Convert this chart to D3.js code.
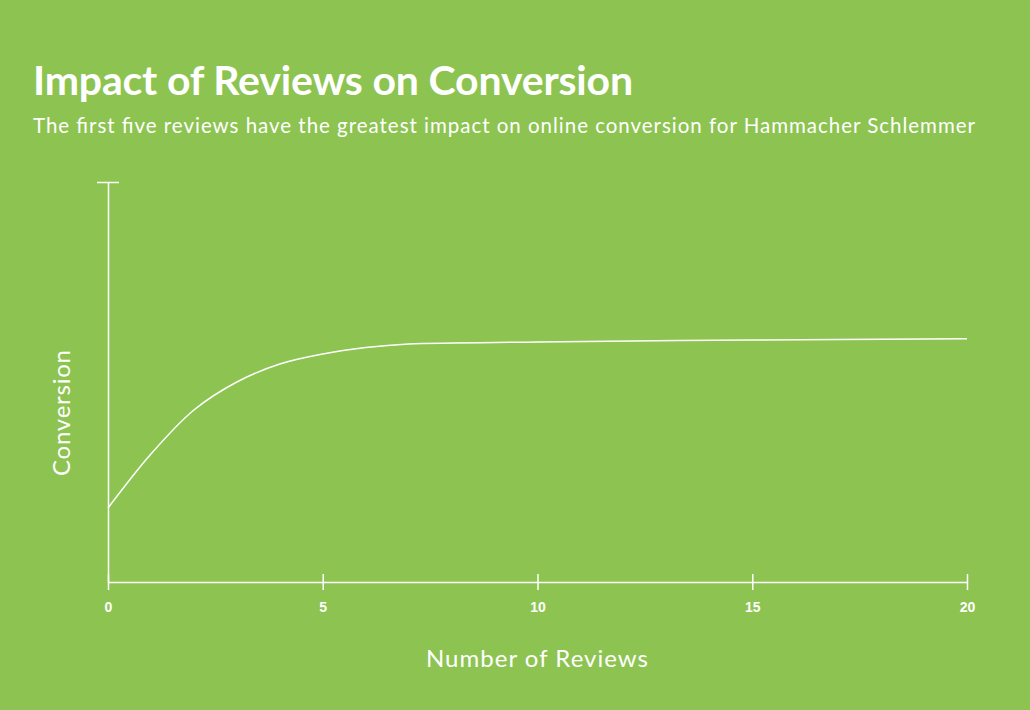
<!DOCTYPE html><html><head><meta charset="utf-8"><script src="https://d3js.org/d3.v7.min.js"></script>
<style>body{margin:0;background:#8dc451}</style></head><body><script>
const reviews=[0,1,2,3,4,5,6,7,10,15,20];
const conversion=[18.5,32,43,50,54.5,57,58.6,59.5,60,60.5,60.8];
const xTicks=[0,5,10,15,20];
const title="Impact of Reviews on Conversion";
const subtitle="The first five reviews have the greatest impact on online conversion for Hammacher Schlemmer";
const W=1030,H=710;
const svg=d3.select("body").append("svg").attr("width",W).attr("height",H).style("font-family","Lato, 'Open Sans', sans-serif");
svg.append("rect").attr("width",W).attr("height",H).attr("fill","#8dc451");
const x=d3.scaleLinear().domain([0,20]).range([108,967]);
const y=d3.scaleLinear().domain([0,100]).range([582,182]);
svg.append("text").attr("x",33).attr("y",95).attr("fill","#fff").attr("font-size",41).attr("font-weight",700).attr("textLength",600).text(title);
svg.append("text").attr("x",33).attr("y",133).attr("fill","#fff").attr("font-size",20.5).attr("font-weight",400).attr("textLength",942).text(subtitle);
const ax=svg.append("g").attr("transform","translate(0,582)").call(d3.axisBottom(x).tickValues(xTicks).tickSize(8).tickPadding(12).tickSizeOuter(0));
ax.select(".domain").attr("stroke","#fff").attr("stroke-width",1.5);
ax.selectAll(".tick line").attr("stroke","#fff").attr("stroke-width",1.5).attr("y1",-8);
ax.selectAll(".tick text").attr("fill","#fff").attr("font-size",14).attr("font-weight",700);
const ay=svg.append("g").attr("transform","translate(108,0)").call(d3.axisLeft(y).tickValues([100]).tickSize(11).tickFormat("").tickSizeOuter(0));
ay.select(".domain").attr("stroke","#fff").attr("stroke-width",1.5);
ay.selectAll(".tick line").attr("stroke","#fff").attr("stroke-width",1.5).attr("x2",11).attr("x1",-11);
svg.append("path").datum(reviews.map((r,i)=>[r,conversion[i]])).attr("fill","none").attr("stroke","#fff").attr("stroke-width",1.5)
 .attr("d",d3.line().x(d=>x(d[0])).y(d=>y(d[1])).curve(d3.curveCatmullRom));
svg.append("text").attr("x",537).attr("y",667).attr("text-anchor","middle").attr("fill","#fff").attr("font-size",24).attr("textLength",222).text("Number of Reviews");
svg.append("text").attr("transform","translate(70,413) rotate(-90)").attr("text-anchor","middle").attr("fill","#fff").attr("font-size",24).attr("textLength",126).text("Conversion");
</script></body></html>
